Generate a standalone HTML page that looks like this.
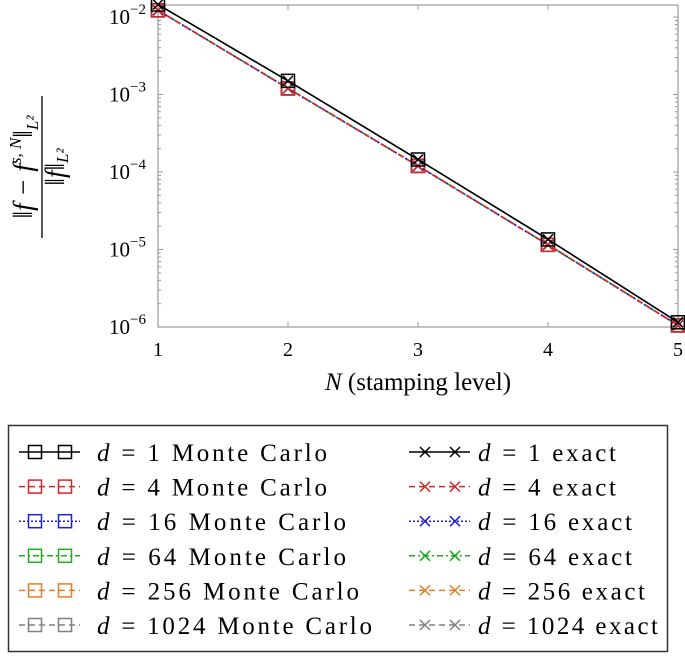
<!DOCTYPE html>
<html><head><meta charset="utf-8"><style>
body{margin:0;background:#fff;width:685px;height:653px;overflow:hidden}
svg text{font-family:"Liberation Serif",serif}
</style></head><body>
<svg id="chart" width="685" height="653" xmlns="http://www.w3.org/2000/svg">
<g id="axes"></g><g id="series"></g>
<g transform="translate(42,167) rotate(-90)">
<text x="0" y="-10" text-anchor="middle" font-size="27" font-style="italic">‖f − f<tspan font-size="17" dy="-11">s, N</tspan><tspan dy="11">‖</tspan><tspan font-size="17" dy="6">L²</tspan></text>
<line x1="-71" y1="0" x2="71" y2="0" stroke="#000" stroke-width="1.3"/>
<text x="0" y="22" text-anchor="middle" font-size="27" font-style="italic">‖f‖<tspan font-size="17" dy="4">L²</tspan></text>
</g>
<text x="418" y="390" text-anchor="middle" font-size="25"><tspan font-style="italic">N</tspan> (stamping level)</text>
<rect x="8.5" y="425.5" width="659" height="226" fill="#fff" stroke="#333" stroke-width="1.5"/>
<g id="legend"></g>
</svg>
<script>
const levels=[1,2,3,4,5];
const dims=[1,4,16,64,256,1024];
const colors=['#000','#d62728','#1f1fd6','#22aa22','#e67e22','#808080'];
const dashes=['', '6,4','2,2','6,3,2,3','6,4','6,4'];
const mc1=[0.0145,1.5e-3,1.45e-4,1.35e-5,1.15e-6];
const mcOther=[0.0122,1.2e-3,1.2e-4,1.15e-5,1.05e-6];
const ex1=[0.0145,1.5e-3,1.45e-4,1.35e-5,1.15e-6];
const exOther=[0.0122,1.2e-3,1.2e-4,1.15e-5,1.05e-6];
const yTicks=[-2,-3,-4,-5,-6];

const NS='http://www.w3.org/2000/svg';
const X0=158,X1=678,Ytop=5,Ybot=327;
const xs=n=>X0+(n-1)*(X1-X0)/4;
const ys=v=>327-(Math.log10(v)+6)*77.5;
function mk(t,a,p){const e=document.createElementNS(NS,t);for(const k in a)e.setAttribute(k,a[k]);(p||document.getElementById('axes')).appendChild(e);return e;}
const frame=mk('rect',{x:X0,y:Ytop,width:X1-X0,height:Ybot-Ytop,fill:'none',stroke:'#999','stroke-width':1.2});


levels.forEach(n=>{
 mk('line',{x1:xs(n),y1:Ybot,x2:xs(n),y2:Ybot-5,stroke:'#999'});
 mk('line',{x1:xs(n),y1:Ytop,x2:xs(n),y2:Ytop+5,stroke:'#999'});
 const t=mk('text',{x:xs(n),y:356,'text-anchor':'middle','font-size':20});t.textContent=n;
 
 
});
yTicks.forEach(e=>{
 const y=ys(Math.pow(10,e));
 mk('line',{x1:X0,y1:y,x2:X0+5,y2:y,stroke:'#999'});
 mk('line',{x1:X1,y1:y,x2:X1-5,y2:y,stroke:'#999'});
 for(let m=2;m<10;m++){const v=Math.pow(10,e)*m;if(ys(v)<Ytop)continue;const yy=ys(v);
  mk('line',{x1:X0,y1:yy,x2:X0+3,y2:yy,stroke:'#999'});mk('line',{x1:X1,y1:yy,x2:X1-3,y2:yy,stroke:'#999'});}
 const t=mk('text',{x:146,y:y+7,'text-anchor':'end','font-size':21});
 t.innerHTML='10<tspan font-size="15" dy="-10">−'+(-e)+'</tspan>';
 
 
});
const sg=document.getElementById('series');
function line(vals,c,d,name){
 const p=mk('polyline',{points:vals.map((v,i)=>xs(levels[i])+','+ys(v)).join(' '),fill:'none',stroke:c,'stroke-width':1.5,'stroke-dasharray':d},sg);
 
 
}
function sq(x,y,c,p){mk('rect',{x:x-6.5,y:y-6.5,width:13,height:13,fill:'none',stroke:c,'stroke-width':1.5},p);}
function cr(x,y,c,p){mk('path',{d:`M${x-5},${y-5}L${x+5},${y+5}M${x-5},${y+5}L${x+5},${y-5}`,stroke:c,'stroke-width':1.5},p);}
for(let k=dims.length-1;k>=0;k--){
 const mc=k==0?mc1:mcOther,ex=k==0?ex1:exOther;
 line(mc,colors[k],dashes[k],'mc-line-d'+dims[k]);
 line(ex,colors[k],dashes[k],'exact-line-d'+dims[k]);
 mc.forEach((v,i)=>sq(xs(levels[i]),ys(v),colors[k],sg));
 ex.forEach((v,i)=>cr(xs(levels[i]),ys(v),colors[k],sg));
}
const lg=document.getElementById('legend');
dims.forEach((d,k)=>{
 const y=452+k*34.6;
 [[19,97,' Monte Carlo',sq],[409,478,' exact',cr]].forEach(([mx,tx,lab,fn])=>{
  const g=mk('g',{},lg);
  
  
  mk('line',{x1:mx,y1:y,x2:mx+61,y2:y,stroke:colors[k],'stroke-width':1.5,'stroke-dasharray':dashes[k]},g);
  fn(mx+16,y,colors[k],g);fn(mx+46,y,colors[k],g);
  const t=mk('text',{x:tx,y:y+9,'font-size':25},g);
  t.innerHTML='<tspan font-style="italic">d</tspan> = '+d+lab;
  t.setAttribute('textLength',fn==sq?(d>=1000?275:d>=100?262:d>=10?249:230):(d>=1000?180:d>=100?167:d>=10?154:138));
 });
});
</script>
</body></html>
